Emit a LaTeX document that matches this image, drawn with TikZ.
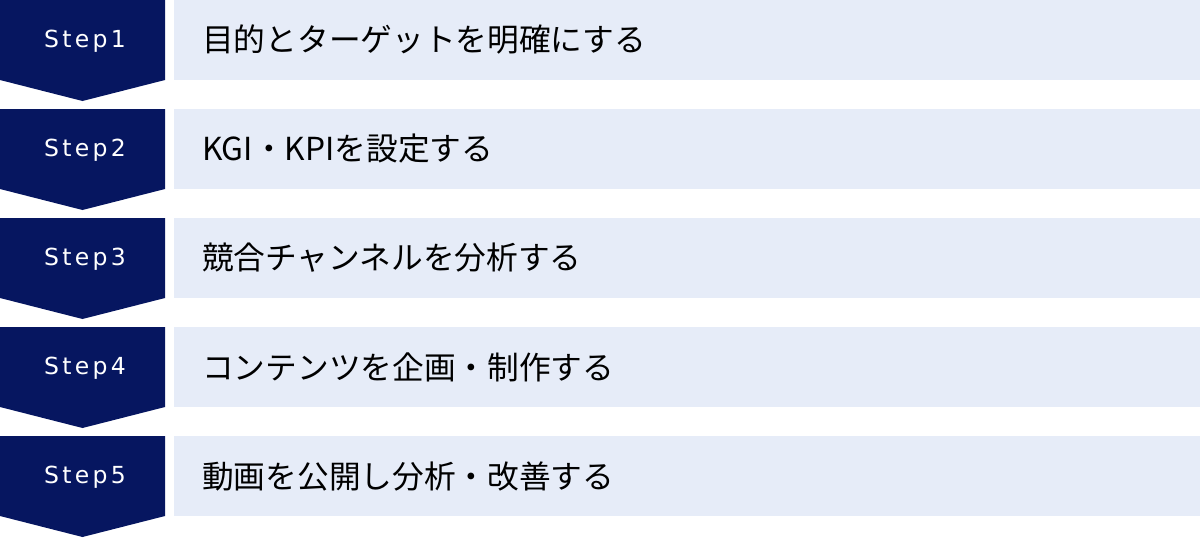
\documentclass[tikz,border=0pt]{standalone}
\usepackage{fontspec}
\setmainfont{Noto Sans CJK JP}
\newfontfamily\stepfont[LetterSpace=14]{DejaVu Sans}
\definecolor{navy}{HTML}{061660}
\definecolor{pale}{HTML}{E6ECF8}
\tikzset{
  x=1pt,y=-1pt,
  stepshape/.style={fill=navy,draw=none},
  bar/.style={fill=pale,draw=none},
  steplabel/.style={text=white,font=\stepfont\fontsize{23.5}{26}\selectfont,anchor=base,inner sep=0},
  bartext/.style={text=black,font=\fontsize{31.7}{36}\selectfont,anchor=west,inner sep=0}
}
\begin{document}
\begin{tikzpicture}
\useasboundingbox (0,0) rectangle (1200,538);
\foreach \i/\lab/\txt in {0/Step1/目的とターゲットを明確にする,1/Step2/KGI・KPIを設定する,2/Step3/競合チャンネルを分析する,3/Step4/コンテンツを企画・制作する,4/Step5/動画を公開し分析・改善する}{
  \pgfmathsetmacro{\yy}{\i*109}
  \fill[stepshape] (0,\yy) -- (165,\yy) -- (165,\yy+80) -- (82.5,\yy+101) -- (0,\yy+80) -- cycle;
  \fill[bar] (174,\yy) rectangle (1200,\yy+80);
  \node[steplabel] (s\i) at (85,\yy+47) {\lab};
  \node[bartext] (t\i) at (202,\yy+40) {\txt};
}
\end{tikzpicture}
\end{document}
